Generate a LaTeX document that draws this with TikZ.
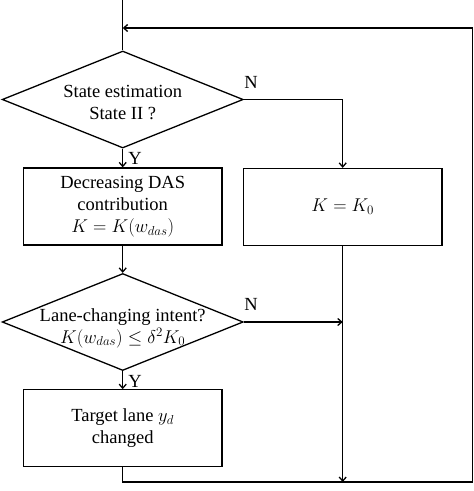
\RequirePackage{fix-cm}
\documentclass[tikz,border=0pt]{standalone}
\usepackage{fontspec}
\setmainfont{Liberation Serif}
\usetikzlibrary{shapes.geometric,arrows.meta}
\begin{document}
\begin{tikzpicture}[x=1pt,y=-1pt,line width=1.3pt,
  every node/.style={font=\fontsize{18.5}{22}\selectfont},
  box/.style={draw,rectangle,minimum width=198.6pt,minimum height=77pt,inner sep=0pt,align=center},
  dec/.style={draw,diamond,minimum width=241pt,minimum height=97pt,inner sep=0pt,aspect=2.5},
  txt/.style={align=center,inner sep=0pt},
  lab/.style={inner sep=0pt},
  arr/.style={-{Straight Barb[length=4pt,width=7pt,line width=1.3pt]}}]
\useasboundingbox (0,0) rectangle (474,491);
\coordinate (top) at (122.7,0);
\node[dec] (d1) at (122.7,99.5) {};
\node[txt] (t1) at (122.7,103) {State estimation\\State II ?};
\node[box] (b1) at (122.7,206.5) {Decreasing DAS\\contribution\\$K=K(w_{das})$};
\node[box] (b2) at (342.7,207) {$K=K_0$};
\node[dec] (d2) at (122.7,322) {};
\node[txt] (t2) at (122.7,328) {Lane-changing intent?\\$K(w_{das})\le\delta^2K_0$};
\node[box] (b3) at (122.7,428.3) {Target lane $y_d$\\changed};
\coordinate (m2) at (342.7,322);
\coordinate (bot) at (342.7,482);
\coordinate (br) at (472.8,482);
\coordinate (tr) at (472.8,28);
\coordinate (tl) at (122.7,28);
\node[lab] (n1) at (251,82) {N};
\node[lab] (y1) at (135,158) {Y};
\node[lab] (n2) at (251,304) {N};
\node[lab] (y2) at (135,381) {Y};
\draw (top) -- (d1.north);
\draw[arr] (d1.east) -| (b2.north);
\draw[arr] (d1.south) -- (b1.north);
\draw[arr] (b1.south) -- (d2.north);
\draw[arr] (d2.east) -- (m2);
\draw[arr] (d2.south) -- (b3.north);
\draw[arr] (b2.south) -- (bot);
\draw[arr] (b3.south) |- (br) -- (tr) -- (tl);
\end{tikzpicture}
\end{document}
